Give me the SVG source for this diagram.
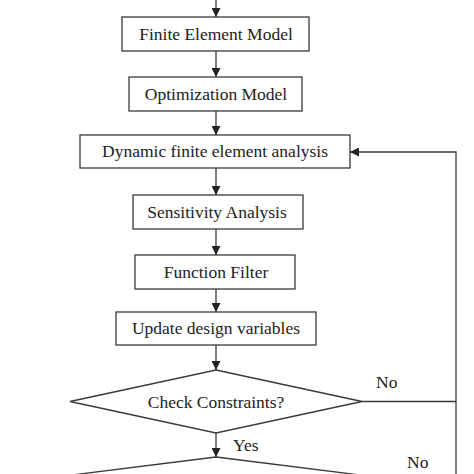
<svg xmlns="http://www.w3.org/2000/svg" width="474" height="474" viewBox="0 0 474 474">
<defs>
<marker id="ah" viewBox="0 0 10 10" refX="10" refY="5" markerWidth="9" markerHeight="9" markerUnits="userSpaceOnUse" orient="auto">
<path d="M0,0 L10,5 L0,10 Z" fill="#222"/>
</marker>
</defs>
<style>
.b{fill:#fff;stroke:#3a3a3a;stroke-width:1.3}
.c{fill:none;stroke:#3a3a3a;stroke-width:1.3}
.t{font-family:"Liberation Serif","Times New Roman",serif;font-size:17.5px;fill:#222;text-anchor:middle}
.l{font-family:"Liberation Serif","Times New Roman",serif;font-size:17.5px;fill:#222}
</style>
<rect width="474" height="474" fill="#fff"/>
<g id="connectors">
<line class="c" x1="216" y1="0" x2="216" y2="17" marker-end="url(#ah)"/>
<line class="c" x1="216" y1="51" x2="216" y2="77" marker-end="url(#ah)"/>
<line class="c" x1="216" y1="111" x2="216" y2="135" marker-end="url(#ah)"/>
<line class="c" x1="216" y1="168" x2="216" y2="195" marker-end="url(#ah)"/>
<line class="c" x1="216" y1="229" x2="216" y2="255" marker-end="url(#ah)"/>
<line class="c" x1="216" y1="289" x2="216" y2="312" marker-end="url(#ah)"/>
<line class="c" x1="216" y1="345" x2="216" y2="370" marker-end="url(#ah)"/>
<line class="c" x1="216" y1="433" x2="216" y2="457" marker-end="url(#ah)"/>
<polyline class="c" points="362,401.5 456,401.5"/>
<polyline class="c" points="456,474 456,152 350,152" marker-end="url(#ah)"/>
<text class="l" x="376" y="388">No</text>
<text class="l" x="233" y="451">Yes</text>
<text class="l" x="407" y="468">No</text>
</g>
<g id="n1"><rect class="b" x="122" y="17" width="187" height="34"/><text class="t" x="216" y="39.5">Finite Element Model</text></g>
<g id="n2"><rect class="b" x="129" y="77" width="173" height="34"/><text class="t" x="216" y="99.5">Optimization Model</text></g>
<g id="n3"><rect class="b" x="80" y="135" width="270" height="33"/><text class="t" x="215" y="157">Dynamic finite element analysis</text></g>
<g id="n4"><rect class="b" x="133" y="195" width="170" height="34"/><text class="t" x="217" y="217.5">Sensitivity Analysis</text></g>
<g id="n5"><rect class="b" x="135" y="255" width="160" height="34"/><text class="t" x="216" y="277.5">Function Filter</text></g>
<g id="n6"><rect class="b" x="116" y="312" width="200" height="33"/><text class="t" x="216" y="333.5">Update design variables</text></g>
<g id="d1"><polygon class="b" points="216,370 362,401.5 216,433 70,401.5"/><text class="t" x="216" y="407.5">Check Constraints?</text></g>
<g id="d2"><polygon class="b" points="216,457 416,482 216,507 16,482"/></g>
</svg>
